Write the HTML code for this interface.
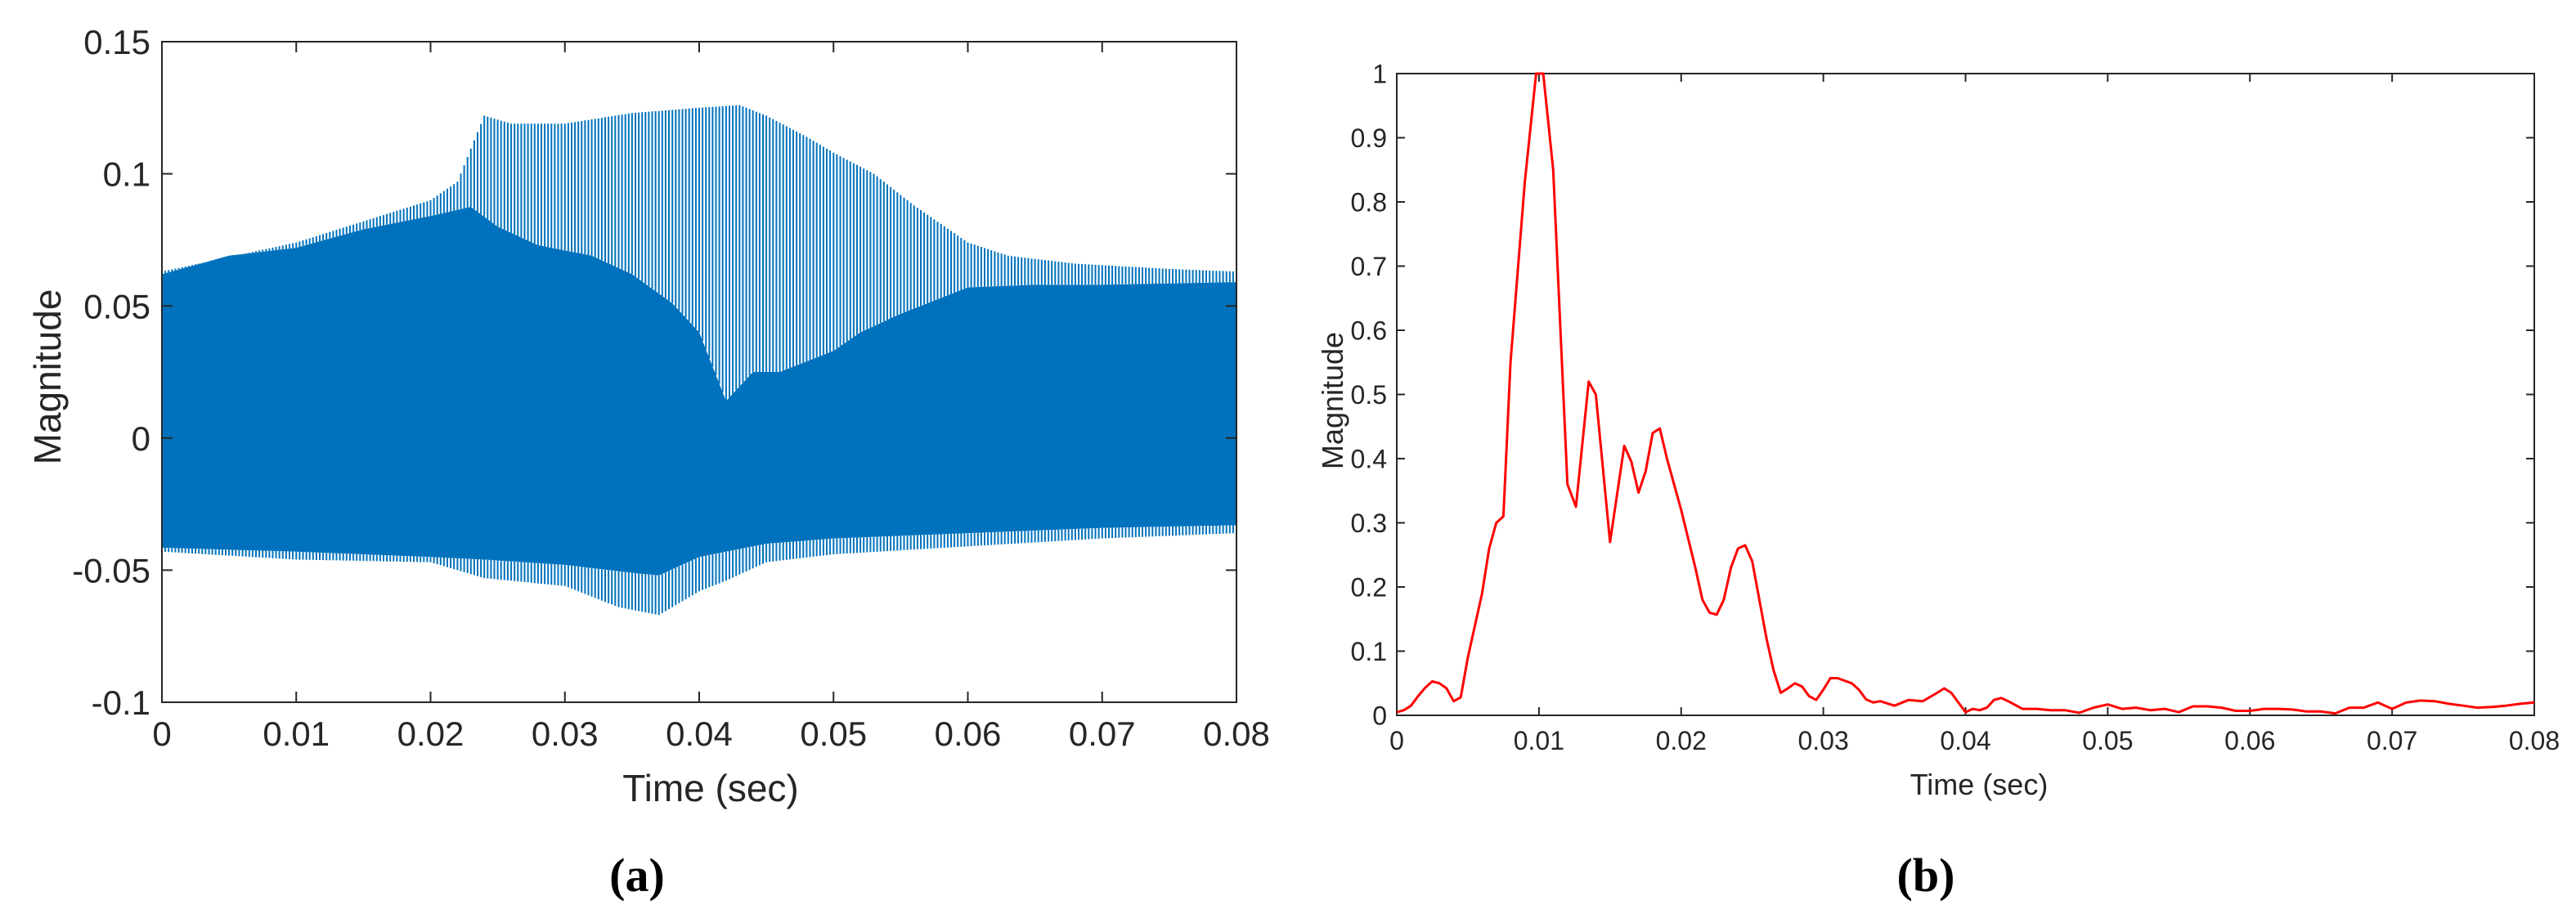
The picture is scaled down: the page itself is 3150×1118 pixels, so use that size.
<!DOCTYPE html>
<html><head><meta charset="utf-8"><style>
html,body{margin:0;padding:0;background:#fff;}
svg{display:block;}
text{font-family:"Liberation Sans",sans-serif;fill:#262626;}
</style></head><body>
<svg id="fig" width="3150" height="1118" viewBox="0 0 3150 1118" xmlns="http://www.w3.org/2000/svg">
<g id="pa"></g>
<g id="pb"></g>
<text x="779" y="1090" text-anchor="middle" style="font-family:'Liberation Serif',serif;font-weight:bold;font-size:58px;fill:#000">(a)</text>
<text x="2355" y="1090" text-anchor="middle" style="font-family:'Liberation Serif',serif;font-weight:bold;font-size:58px;fill:#000">(b)</text>
</svg>
<script>
// ---- Chart (a) data ----
const aTimes      = [0,0.005,0.01,0.015,0.02,0.023,0.025,0.028,0.032,0.035,0.038,0.040,0.042,0.044,0.046,0.048,0.05,0.052,0.055,0.058,0.06,0.065,0.07,0.08];
const aCoreUpper  = [0.062,0.069,0.072,0.079,0.084,0.0875,0.08,0.073,0.069,0.062,0.051,0.040,0.014,0.025,0.025,0.029,0.033,0.040,0.047,0.053,0.057,0.058,0.058,0.059];
const aSpikeTimes = [0,0.01,0.02,0.022,0.024,0.026,0.03,0.035,0.04,0.043,0.045,0.048,0.05,0.053,0.056,0.06,0.063,0.068,0.075,0.08];
const aSpikeUpper = [0.063,0.074,0.09,0.097,0.122,0.119,0.119,0.123,0.125,0.126,0.122,0.114,0.108,0.100,0.088,0.074,0.069,0.066,0.064,0.063];
const aLowTimes   = [0,0.01,0.02,0.024,0.03,0.035,0.037,0.04,0.045,0.05,0.06,0.07,0.08];
const aCoreLower  = [-0.0415,-0.043,-0.045,-0.046,-0.048,-0.051,-0.052,-0.045,-0.040,-0.038,-0.036,-0.034,-0.033];
const aSpikeLowT  = [0,0.01,0.02,0.024,0.03,0.034,0.037,0.04,0.042,0.045,0.05,0.06,0.07,0.08];
const aSpikeLower = [-0.043,-0.046,-0.047,-0.053,-0.056,-0.064,-0.067,-0.058,-0.054,-0.047,-0.044,-0.041,-0.038,-0.036];
const aXTicks = [0,0.01,0.02,0.03,0.04,0.05,0.06,0.07,0.08];
const aXTickLabels = ["0","0.01","0.02","0.03","0.04","0.05","0.06","0.07","0.08"];
const aYTicks = [-0.1,-0.05,0,0.05,0.1,0.15];
const aYTickLabels = ["-0.1","-0.05","0","0.05","0.1","0.15"];
// ---- Chart (b) data ----
const bTimes = [0,0.0005,0.001,0.0015,0.002,0.0025,0.003,0.0035,0.004,0.0045,0.005,0.0055,0.006,0.0065,0.007,0.0075,0.008,0.009,0.0098,0.0103,0.011,0.012,0.0126,0.0135,0.014,0.015,0.016,0.0165,0.017,0.0175,0.018,0.0185,0.019,0.02,0.021,0.0215,0.022,0.0225,0.023,0.0235,0.024,0.0245,0.025,0.0255,0.026,0.0265,0.027,0.0275,0.028,0.0285,0.029,0.0295,0.03,0.0305,0.031,0.032,0.0325,0.033,0.0335,0.034,0.035,0.036,0.037,0.038,0.0385,0.039,0.04,0.0405,0.041,0.0415,0.042,0.0425,0.043,0.044,0.045,0.046,0.047,0.048,0.049,0.05,0.051,0.052,0.053,0.054,0.055,0.056,0.057,0.058,0.059,0.06,0.061,0.062,0.063,0.064,0.065,0.066,0.067,0.068,0.069,0.07,0.071,0.072,0.073,0.074,0.075,0.076,0.077,0.078,0.079,0.08];
const bValues = [0.005,0.008,0.015,0.03,0.043,0.053,0.05,0.042,0.022,0.028,0.09,0.14,0.19,0.26,0.3,0.31,0.55,0.83,1.0,1.0,0.85,0.36,0.325,0.52,0.5,0.27,0.42,0.395,0.347,0.38,0.44,0.447,0.40,0.32,0.23,0.18,0.16,0.157,0.18,0.23,0.26,0.265,0.24,0.18,0.12,0.07,0.035,0.042,0.05,0.045,0.03,0.024,0.04,0.058,0.058,0.05,0.04,0.025,0.02,0.022,0.015,0.024,0.022,0.035,0.042,0.035,0.005,0.01,0.008,0.012,0.024,0.027,0.022,0.01,0.01,0.008,0.008,0.004,0.012,0.017,0.01,0.012,0.008,0.01,0.005,0.014,0.014,0.012,0.007,0.007,0.01,0.01,0.009,0.006,0.006,0.003,0.012,0.012,0.02,0.01,0.02,0.023,0.022,0.018,0.015,0.012,0.013,0.015,0.018,0.02];
const bXTicks = [0,0.01,0.02,0.03,0.04,0.05,0.06,0.07,0.08];
const bXTickLabels = ["0","0.01","0.02","0.03","0.04","0.05","0.06","0.07","0.08"];
const bYTicks = [0,0.1,0.2,0.3,0.4,0.5,0.6,0.7,0.8,0.9,1];
const bYTickLabels = ["0","0.1","0.2","0.3","0.4","0.5","0.6","0.7","0.8","0.9","1"];

const NS="http://www.w3.org/2000/svg";
function mk(parent,tag,attrs,txt){const e=document.createElementNS(NS,tag);for(const k in attrs)e.setAttribute(k,attrs[k]);if(txt!==undefined)e.textContent=txt;parent.appendChild(e);return e;}
function interp(xs,ys,x){if(x<=xs[0])return ys[0];for(let i=1;i<xs.length;i++){if(x<=xs[i]){const f=(x-xs[i-1])/(xs[i]-xs[i-1]);return ys[i-1]+f*(ys[i]-ys[i-1]);}}return ys[ys.length-1];}

function axes(g,L,R,T,B,xs,ys,xt,xl,yt,yl,fs,tick,xlabY,ylabX){
  mk(g,'rect',{x:L,y:T,width:R-L,height:B-T,fill:'none',stroke:'#262626','stroke-width':2});
  xt.forEach((v,i)=>{const x=xs(v);
    const t=mk(g,'line',{x1:x,x2:x,y1:B,y2:B-tick,stroke:'#262626','stroke-width':2});
    
    
    mk(g,'line',{x1:x,x2:x,y1:T,y2:T+tick,stroke:'#262626','stroke-width':2});
    const l=mk(g,'text',{x:x,y:xlabY,'text-anchor':'middle','font-size':fs},xl[i]);
    
    
  });
  yt.forEach((v,i)=>{const y=ys(v);
    const t=mk(g,'line',{x1:L,x2:L+tick,y1:y,y2:y,stroke:'#262626','stroke-width':2});
    
    
    mk(g,'line',{x1:R,x2:R-tick,y1:y,y2:y,stroke:'#262626','stroke-width':2});
    const l=mk(g,'text',{x:ylabX,y:y+fs*0.36,'text-anchor':'end','font-size':fs},yl[i]);
    
    
  });
}

// Chart a
(function(){
  const g=document.getElementById('pa');
  const L=198,R=1512,T=51,B=859;
  const xs=t=>L+(t-0)/0.08*(R-L);
  const ys=v=>B-(v+0.1)/0.25*(B-T);
  // core fill
  let pts=[];
  for(let t=0;t<=0.08+1e-9;t+=0.0005)pts.push(xs(t)+','+ys(interp(aTimes,aCoreUpper,t)));
  for(let t=0.08;t>=-1e-9;t-=0.0005)pts.push(xs(t)+','+ys(interp(aLowTimes,aCoreLower,t)));
  const core=mk(g,'polygon',{points:pts.join(' '),fill:'#0072BD'});
  
  
  let d='';
  for(let t=0;t<=0.08;t+=0.00025){
    const x=xs(t).toFixed(1);
    d+='M'+x+','+ys(interp(aTimes,aCoreUpper,t)).toFixed(1)+'V'+ys(interp(aSpikeTimes,aSpikeUpper,t)).toFixed(1);
    d+='M'+x+','+ys(interp(aLowTimes,aCoreLower,t)).toFixed(1)+'V'+ys(interp(aSpikeLowT,aSpikeLower,t)).toFixed(1);
  }
  const sp=mk(g,'path',{d:d,stroke:'#0072BD','stroke-width':2,fill:'none'});
  
  
  axes(g,L,R,T,B,xs,ys,aXTicks,aXTickLabels,aYTicks,aYTickLabels,42,13,912,184);
  const xt=mk(g,'text',{x:869,y:980,'text-anchor':'middle','font-size':46},'Time (sec)');
  
  
  const yt=mk(g,'text',{x:0,y:0,'text-anchor':'middle','font-size':46,transform:'translate(74,461) rotate(-90)'},'Magnitude');
  
  
})();

// Chart b
(function(){
  const g=document.getElementById('pb');
  const L=1708,R=3099,T=90,B=875;
  const xs=t=>L+t/0.08*(R-L);
  const ys=v=>B-v*(B-T);
  axes(g,L,R,T,B,xs,ys,bXTicks,bXTickLabels,bYTicks,bYTickLabels,32,10,917,1696);
  const p=mk(g,'polyline',{points:bTimes.map((t,i)=>xs(t).toFixed(1)+','+ys(bValues[i]).toFixed(1)).join(' '),fill:'none',stroke:'#FF0000','stroke-width':3,'stroke-linejoin':'round'});
  
  
  const xt=mk(g,'text',{x:2420,y:972,'text-anchor':'middle','font-size':36},'Time (sec)');
  
  
  const yt=mk(g,'text',{x:0,y:0,'text-anchor':'middle','font-size':36,transform:'translate(1642,490) rotate(-90)'},'Magnitude');
  
  
})();
</script>
</body></html>
